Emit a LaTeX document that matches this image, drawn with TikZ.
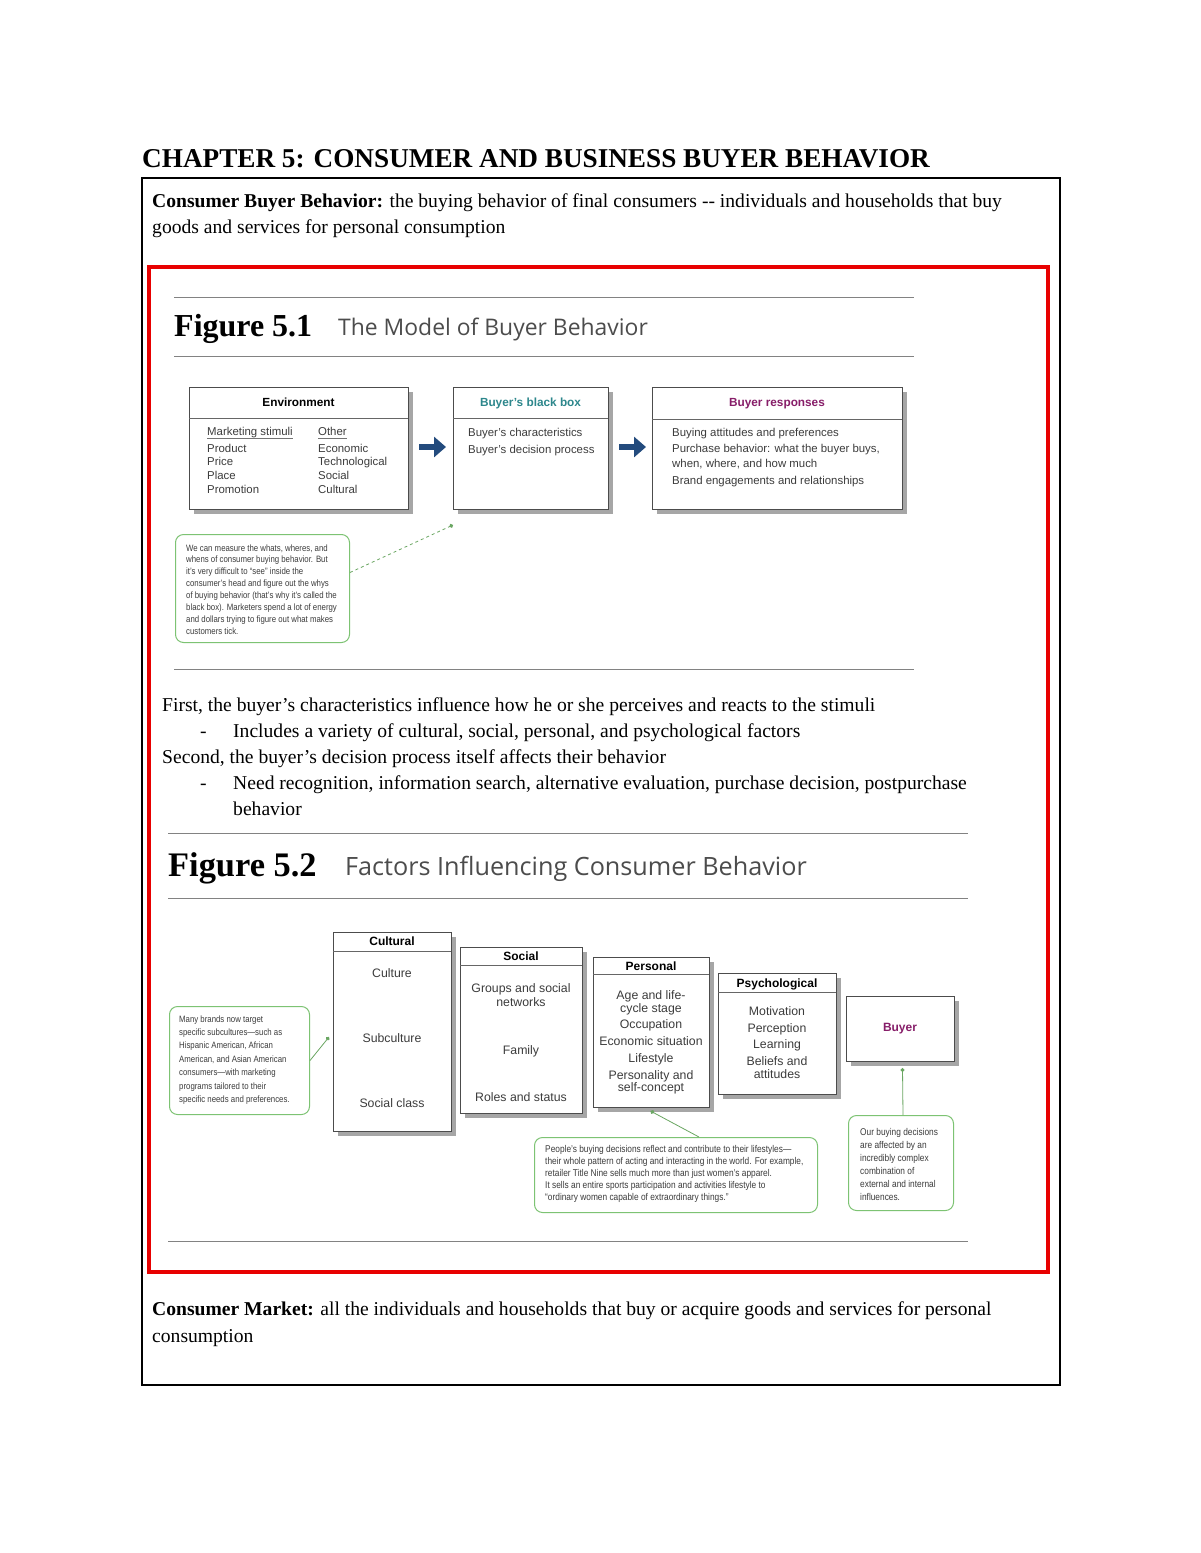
\documentclass[tikz,border=0pt]{standalone}
\usepackage{fontspec}
\setmainfont{Liberation Serif}
\setsansfont{Liberation Sans}
\newfontfamily\narrowsf[FakeStretch=0.85]{Liberation Sans}
\newfontfamily\figtitlesf{Open Sans}
\usetikzlibrary{arrows.meta,shadows}
\definecolor{redbox}{RGB}{232,0,0}
\definecolor{rulegray}{RGB}{130,130,130}
\definecolor{callgreen}{RGB}{125,195,115}
\definecolor{arrowblue}{RGB}{35,75,125}
\definecolor{tealhdr}{RGB}{45,135,140}
\definecolor{purphdr}{RGB}{135,30,105}
\definecolor{txtgray}{RGB}{60,60,60}
\tikzset{
  body/.style={anchor=base west, inner sep=0, font=\fontsize{19.6}{21}\selectfont},
  rulel/.style={draw=rulegray, line width=1pt},
  figbox/.style={draw=black!70, line width=1pt, fill=white, anchor=north west, inner sep=0,
     drop shadow={shadow xshift=4pt, shadow yshift=-4pt, fill=black, opacity=0.35}},
  hline/.style={draw=black!60, line width=0.8pt},
  hdr/.style={anchor=base, inner sep=0, font=\sffamily\bfseries\fontsize{11.8}{13}\selectfont},
  hdrb/.style={anchor=base, inner sep=0, font=\sffamily\bfseries\fontsize{12}{13}\selectfont},
  btxt/.style={anchor=base west, inner sep=0, text=txtgray, font=\sffamily\fontsize{11.4}{12}\selectfont},
  ctxt/.style={anchor=base, inner sep=0, text=txtgray, font=\sffamily\fontsize{12.3}{13}\selectfont},
  calltxt/.style={anchor=base west, inner sep=0, text=txtgray, font=\narrowsf\fontsize{9.2}{10}\selectfont},
  calltxtb/.style={calltxt, font=\narrowsf\fontsize{9.8}{10}\selectfont},
  callout/.style={draw=callgreen, line width=1pt, rounded corners=8pt, anchor=north west, inner sep=0, fill=white},
  conn/.style={draw=callgreen!85!black, line width=0.8pt, -{Circle[length=4pt]}},
  bigarrow/.style={draw=arrowblue, line width=6pt, -{Triangle[length=12pt,width=20pt]}}
}
\begin{document}
\begin{tikzpicture}[x=1pt,y=-1pt]
\useasboundingbox (0,0) rectangle (1200,1553);
\fill[white] (0,0) rectangle (1200,1553);

% title
\node[anchor=base west, inner sep=0, font=\bfseries\fontsize{27.2}{30}\selectfont] (title) at (142,167) {CHAPTER 5: CONSUMER AND BUSINESS BUYER BEHAVIOR};

% frames
\draw[line width=2.2pt] (142,178) rectangle (1060,1385);
\draw[redbox, line width=4pt] (149,267) rectangle (1048,1272);

% definition text
\node[body] (def1) at (152,207) {\textbf{Consumer Buyer Behavior:} the buying behavior of final consumers {-}{-} individuals and households that buy};
\node[body] (def2) at (152,233) {goods and services for personal consumption};

% ---------- Figure 5.1 ----------
\draw[rulel] (174,297) -- (914,297);
\draw[rulel] (174,356) -- (914,356);
\draw[rulel] (174,669) -- (914,669);
\node[anchor=base west, inner sep=0, font=\bfseries\fontsize{32}{34}\selectfont] (f1lab) at (174,336) {Figure 5.1};
\node[anchor=base west, inner sep=0, text=black!70, font=\figtitlesf\fontsize{22.9}{25}\selectfont] (f1tit) at (338,335) {The Model of Buyer Behavior};

\node[figbox, minimum width=219pt, minimum height=122pt] (env) at (189,387) {};
\draw[hline] (189,418) -- (408,418);
\node[hdr] (envh) at (298.5,406) {Environment};
\node[btxt] (mk) at (207,435) {Marketing stimuli};
\draw[black!55, line width=0.7pt] ([yshift=-3pt]mk.base west) -- ([yshift=-3pt]mk.base east);
\node[btxt] (ot) at (318,435) {Other};
\draw[black!55, line width=0.7pt] ([yshift=-3pt]ot.base west) -- ([yshift=-3pt]ot.base east);
\foreach \t [count=\i] in {Product,Price,Place,Promotion}
  \node[btxt] (mkl\i) at ({207},{452+13.7*(\i-1)}) {\t};
\foreach \t [count=\i] in {Economic,Technological,Social,Cultural}
  \node[btxt] (otl\i) at ({318},{452+13.7*(\i-1)}) {\t};

\node[figbox, minimum width=155pt, minimum height=122pt] (bb) at (453,387) {};
\draw[hline] (453,418) -- (608,418);
\node[hdr, text=tealhdr] (bbh) at (530.5,406) {Buyer’s black box};
\node[btxt] (bb1) at (468,436) {Buyer’s characteristics};
\node[btxt] (bb2) at (468,453) {Buyer’s decision process};

\node[figbox, minimum width=250pt, minimum height=122pt] (br) at (652,387) {};
\draw[hline] (652,419) -- (902,419);
\node[hdr, text=purphdr] (brh) at (777,406) {Buyer responses};
\node[btxt] (br1) at (672,436) {Buying attitudes and preferences};
\node[btxt] (br2) at (672,452) {Purchase behavior: what the buyer buys,};
\node[btxt] (br3) at (672,467) {when, where, and how much};
\node[btxt] (br4) at (672,484) {Brand engagements and relationships};

\draw[bigarrow] ([xshift=10pt,yshift=-60pt]env.north east) -- ([xshift=-7pt,yshift=-60pt]bb.north west);
\draw[bigarrow] ([xshift=10pt,yshift=-60pt]bb.north east) -- ([xshift=-6pt,yshift=-60pt]br.north west);

\node[callout, minimum width=174pt, minimum height=108pt] (call1) at (175,534) {};
\foreach \t [count=\i] in {{We can measure the whats, wheres, and},{whens of consumer buying behavior. But},{it’s very difficult to “see” inside the},{consumer’s head and figure out the whys},{of buying behavior (that’s why it’s called the},{black box). Marketers spend a lot of energy},{and dollars trying to figure out what makes},{customers tick.}}
  \node[calltxt] (c1l\i) at ({186},{551+11.9*(\i-1)}) {\t};
\coordinate (bbdot) at (453,525);
\draw[conn, dashed] ([yshift=16pt]call1.east) -- (bbdot);

% paragraph
\node[body] (p1) at (162,711) {First, the buyer’s characteristics influence how he or she perceives and reacts to the stimuli};
\node[body] (p2d) at (200,737) {-};
\node[body] (p2) at (233,737) {Includes a variety of cultural, social, personal, and psychological factors};
\node[body] (p3) at (162,763) {Second, the buyer’s decision process itself affects their behavior};
\node[body] (p4d) at (200,789) {-};
\node[body] (p4) at (233,789) {Need recognition, information search, alternative evaluation, purchase decision, postpurchase};
\node[body] (p5) at (233,815) {behavior};

% ---------- Figure 5.2 ----------
\draw[rulel] (168,833) -- (968,833);
\draw[rulel] (168,898) -- (968,898);
\draw[rulel] (168,1241) -- (968,1241);
\node[anchor=base west, inner sep=0, font=\bfseries\fontsize{34.4}{36}\selectfont] (f2lab) at (168,876) {Figure 5.2};
\node[anchor=base west, inner sep=0, text=black!70, font=\figtitlesf\fontsize{25.2}{27}\selectfont] (f2tit) at (345,875) {Factors Influencing Consumer Behavior};

% Cultural
\node[figbox, minimum width=118pt, minimum height=199pt] (cult) at (333,932) {};
\draw[hline] (333,951) -- (451,951);
\node[hdrb] (culth) at (392,945) {Cultural};
\node[ctxt] (cu1) at (392,977) {Culture};
\node[ctxt] (cu2) at (392,1042) {Subculture};
\node[ctxt] (cu3) at (392,1107) {Social class};

% Social
\node[figbox, minimum width=122pt, minimum height=166pt] (soc) at (460,947) {};
\draw[hline] (460,965) -- (582,965);
\node[hdrb] (soch) at (521,960) {Social};
\node[ctxt] (so1) at (521,992) {Groups and social};
\node[ctxt] (so2) at (521,1006) {networks};
\node[ctxt] (so3) at (521,1054) {Family};
\node[ctxt] (so4) at (521,1101) {Roles and status};

% Personal
\node[figbox, minimum width=116pt, minimum height=150pt] (pers) at (593,957) {};
\draw[hline] (593,974) -- (709,974);
\node[hdrb] (persh) at (651,970) {Personal};
\foreach \t/\yy [count=\i] in {Age and life-/999,cycle stage/1012,Occupation/1028,Economic situation/1045,Lifestyle/1062,Personality and/1079,self-concept/1091}
  \node[ctxt] (pe\i) at (651,\yy) {\t};

% Psychological
\node[figbox, minimum width=118pt, minimum height=121pt] (psy) at (718,973) {};
\draw[hline] (718,992) -- (836,992);
\node[hdrb] (psyh) at (777,987) {Psychological};
\foreach \t/\yy [count=\i] in {Motivation/1015,Perception/1032,Learning/1048,Beliefs and/1065,attitudes/1078}
  \node[ctxt] (ps\i) at (777,\yy) {\t};

% Buyer
\node[figbox, minimum width=108pt, minimum height=65pt] (buyer) at (846,996) {};
\node[hdrb, text=purphdr] (buyerh) at (900,1031) {Buyer};

% callouts
\node[callout, minimum width=140pt, minimum height=108pt] (call2) at (169,1006) {};
\foreach \t [count=\i] in {{Many brands now target},{specific subcultures—such as},{Hispanic American, African},{American, and Asian American},{consumers—with marketing},{programs tailored to their},{specific needs and preferences.}}
  \node[calltxt] (c2l\i) at ({179},{1022+13.4*(\i-1)}) {\t};
\draw[conn] (call2.east) -- ([xshift=-4pt,yshift=-5pt]cult.west);

\node[callout, minimum width=283pt, minimum height=75pt] (call3) at (534,1137) {};
\foreach \t [count=\i] in {{People’s buying decisions reflect and contribute to their lifestyles—},{their whole pattern of acting and interacting in the world. For example,},{retailer Title Nine sells much more than just women’s apparel.},{It sells an entire sports participation and activities lifestyle to},{“ordinary women capable of extraordinary things.”}}
  \node[calltxtb] (c3l\i) at ({545},{1152+12.2*(\i-1)}) {\t};
\draw[conn] ([xshift=23pt]call3.north) -- ([xshift=-1pt,yshift=-3pt]pers.south);

\node[callout, minimum width=105pt, minimum height=95pt] (call4) at (848,1115) {};
\foreach \t [count=\i] in {{Our buying decisions},{are affected by an},{incredibly complex},{combination of},{external and internal},{influences.}}
  \node[calltxtb] (c4l\i) at ({860},{1135+13*(\i-1)}) {\t};
\draw[conn] ([xshift=2pt]call4.north) -- ([xshift=2pt,yshift=-6pt]buyer.south);

% bottom definition
\node[body] (def3) at (152,1315) {\textbf{Consumer Market:} all the individuals and households that buy or acquire goods and services for personal};
\node[body] (def4) at (152,1342) {consumption};
\end{tikzpicture}
\end{document}
